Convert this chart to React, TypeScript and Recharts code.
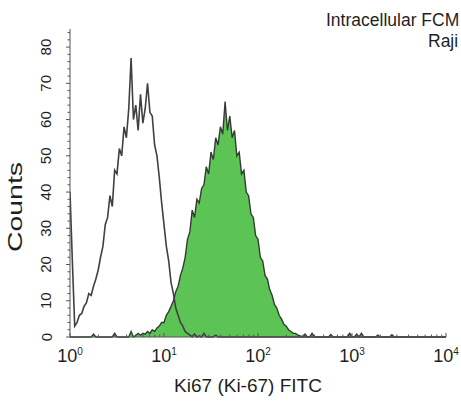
import { ComposedChart, Area, Line, XAxis, YAxis, Customized } from "recharts";

// histogram channels: 40 bins per decade, 10^0 .. 10^4
const BINS_PER_DECADE = 40;

// open histogram (control)
const controlCounts = [
  40, 21, 3, 4, 6, 6.5, 8.5, 9.5, 12, 11.5,
  14, 16, 18.5, 22, 25, 31, 33, 39, 36, 46,
  45, 52, 50, 58, 55, 63, 77, 60, 64, 57,
  67, 59, 63, 70, 62, 61, 53, 50, 44, 37,
  31, 25, 21, 15, 12, 8, 6, 4, 3, 1.5,
  1, 0.5, 0, 0.8, 0, 0.3, 0, 1, 0, 0,
  0, 0, 0.5, 0, 0, 0, 0, 0, 0, 0,
  0, 0, 0, 0, 0, 0, 0, 0, 0, 0,
  0, 0, 0, 0, 0, 0, 0, 0, 0, 0,
  0, 0, 0, 0, 0, 0, 0, 0, 0, 0,
  0, 0, 0, 0, 0, 0, 0, 0, 0, 0,
  0, 0, 0, 0, 0, 0, 0, 0, 0, 0,
  0, 0, 0, 0, 0, 0, 0, 0, 0, 0,
  0, 0, 0, 0, 0, 0, 0, 0, 0, 0,
  0, 0, 0, 0, 0, 0, 0, 0, 0, 0,
  0, 0, 0, 0, 0, 0, 0, 0, 0, 0,
  0,
];

// filled histogram (Ki67 FITC)
const ki67Counts = [
  0, 0, 0, 0, 0, 0, 0, 0, 0, 0,
  0.8, 0, 0, 0, 0, 0, 0, 0, 0, 1,
  0, 0, 0, 0, 0, 0, 1.5, 0, 0.5, 1,
  0.5, 1, 0.8, 1.5, 1, 2, 1.5, 2.5, 3, 4,
  4, 6, 7, 8.5, 10, 12.5, 14, 17, 19, 22,
  27, 29, 35, 33, 38, 37, 41, 42, 47, 45,
  51, 49, 55, 53, 58, 56, 65, 57, 61, 55,
  57, 50, 51, 45, 46, 40, 39, 34, 33, 28,
  27, 22, 21, 17, 16, 13, 11.5, 9, 8, 6,
  5, 3.5, 3, 2, 1.5, 1, 1, 0.5, 0.3, 0,
  0.8, 0, 0, 1, 0, 0, 0, 0, 0, 0,
  0, 0.7, 0, 0, 0, 0, 0, 0, 0, 1,
  0, 0, 0.8, 0, 1, 0, 0, 0, 0, 0,
  0, 0.5, 0, 0, 0, 0, 0, 0.6, 0, 0,
  0, 0, 0, 0, 0, 0, 0, 0, 0, 0,
  0, 0, 0, 0, 0, 0, 0, 0, 0, 0,
  0,
];

const xMajorTicks = [1, 10, 100, 1000, 10000];
const yLabelTicks = [0, 10, 20, 30, 40, 50, 60, 70, 80];

const FONT = "'Liberation Sans', Arial, sans-serif";
const INK = "#1f1f1f";

const data = controlCounts.map((c, i) => ({
  x: Math.pow(10, i / BINS_PER_DECADE),
  control: c,
  ki67: ki67Counts[i],
}));

// minor log ticks 2..9 in each decade plus the decades
const xTicks: number[] = [];
xMajorTicks.forEach((d, k) => {
  xTicks.push(d);
  if (k < xMajorTicks.length - 1) {
    for (let m = 2; m < 10; m++) xTicks.push(d * m);
  }
});

const yTicks: number[] = [];
for (let v = 0; v <= 84; v += 2) yTicks.push(v);

const XTick = (props: any) => {
  const { x, y, payload } = props;
  const exp = Math.log10(payload.value);
  const major = Math.abs(exp - Math.round(exp)) < 1e-6;
  return (
    <g>
      <line x1={x} x2={x} y1={y} y2={y - (major ? 4 : 2.5)} stroke="#555" strokeWidth={1} />
      {major && (
        <text x={x} y={y + 25} textAnchor="middle" fontFamily={FONT} fontSize={18} fill={INK}>
          10
          <tspan dy={-7} fontSize={10}>{Math.round(exp)}</tspan>
        </text>
      )}
    </g>
  );
};

const YTick = (props: any) => {
  const { x, y, payload } = props;
  const major = yLabelTicks.includes(payload.value);
  return (
    <g>
      <line x1={x - (major ? 4 : 2.5)} x2={x} y1={y} y2={y} stroke="#555" strokeWidth={1} />
      {major && (
        <text
          x={46}
          y={y}
          transform={`rotate(-90, 46, ${y})`}
          textAnchor="middle"
          dominantBaseline="central"
          fontFamily={FONT}
          fontSize={15}
          fill={INK}
        >
          {payload.value}
        </text>
      )}
    </g>
  );
};

const Annotations = () => (
  <g fontFamily={FONT} fill={INK}>
    <text x={326} y={26} fontSize={17.5}>Intracellular FCM</text>
    <text x={428} y={47} fontSize={17.5}>Raji</text>
    <text x={248} y={392} textAnchor="middle" fontSize={19}>Ki67 (Ki-67) FITC</text>
    <text
      x={14}
      y={207}
      transform="rotate(-90, 14, 207)"
      textAnchor="middle"
      dominantBaseline="central"
      fontSize={21}
      textLength={90}
      lengthAdjust="spacingAndGlyphs"
    >
      Counts
    </text>
  </g>
);

export default function App() {
  return (
    <div style={{ position: "absolute", left: 0, top: 0, background: "#fff" }}>
      <ComposedChart width={461} height={417} data={data} margin={{ top: 29, right: 15, bottom: 0, left: 0 }}>
        <XAxis
          dataKey="x"
          type="number"
          scale="log"
          domain={[1, 10000]}
          allowDataOverflow
          ticks={xTicks}
          interval={0}
          tick={<XTick />}
          tickLine={false}
          tickSize={0}
          tickMargin={0}
          height={80}
          axisLine={{ stroke: "#555" }}
        />
        <YAxis
          type="number"
          domain={[0, 85]}
          ticks={yTicks}
          interval={0}
          tick={<YTick />}
          tickLine={false}
          tickSize={0}
          tickMargin={0}
          width={70}
          axisLine={{ stroke: "#555" }}
        />
        <Area
          type="linear"
          dataKey="ki67"
          fill="#5cc454"
          fillOpacity={1}
          stroke="#333c33"
          strokeWidth={1.4}
          isAnimationActive={false}
          dot={false}
          activeDot={false}
        />
        <Line
          type="linear"
          dataKey="control"
          stroke="#404040"
          strokeWidth={1.6}
          dot={false}
          activeDot={false}
          isAnimationActive={false}
        />
        <Customized component={Annotations} />
      </ComposedChart>
    </div>
  );
}
